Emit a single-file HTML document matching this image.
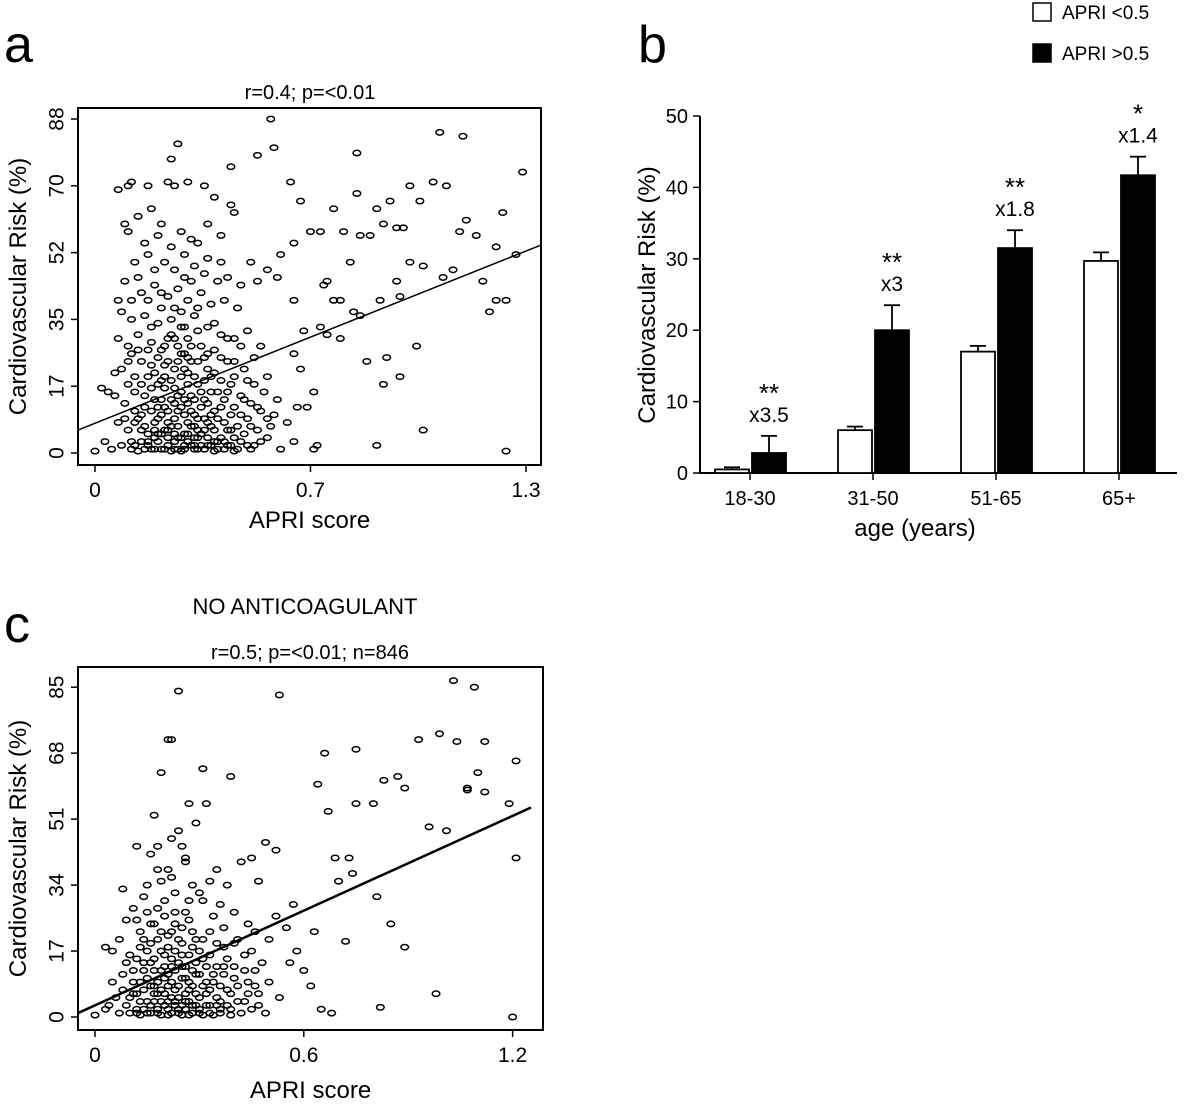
<!DOCTYPE html>
<html><head><meta charset="utf-8"><style>
html,body{margin:0;padding:0;background:#fff;}
svg{display:block;font-family:"Liberation Sans",Arial,sans-serif;}
</style></head><body>
<svg id="chart" width="1200" height="1105" viewBox="0 0 1200 1105">
<text x="4" y="62" font-size="52">a</text>
<text x="638" y="62" font-size="52">b</text>
<text x="4" y="642" font-size="52">c</text>
<g id="pa"></g>
<g id="pb"></g>
<g id="pc"></g>
</svg>
<script>
// ---------- Panel a data ----------
const aXTicks=[0,0.65,1.3];
const aXTickLabels=["0","0.7","1.3"];
const aYTicks=[0,17.5,35,52.5,70,87.5];
const aYTickLabels=["0","17","35","52","70","88"];
const aFit=[7.8,34.7]; // intercept, slope
const aPoints=[[0.53,87.5],[0.25,81],[0.54,80],[0.23,77],[0.49,78],[1.04,84],[1.11,83],[1.29,73.6],[0.79,78.6],[0.41,75],[0.59,71],[0.95,70],[1.02,71],[1.06,70],[0.07,69],[0.11,71],[0.16,70],[0.22,71],[0.24,70],[0.28,71],[0.33,70],[0.10,70],[0.36,67],[0.42,63],[0.41,65],[0.62,66],[0.72,64],[0.79,68],[0.85,64],[0.89,66],[0.98,66],[1.12,61],[1.23,63],[0.68,58],[0.65,58],[0.75,58],[0.80,57],[0.83,57],[0.87,60],[0.91,59],[0.93,59],[1.10,58],[1.15,57],[1.21,54],[1.27,52],[1.08,48],[1.17,45],[1.21,40],[1.24,40],[1.19,37],[1.05,46],[0.99,49],[0.91,45],[0.77,50],[0.70,45],[0.69,44],[0.72,40],[0.74,40],[0.78,37],[0.80,36],[0.86,40],[0.95,50],[0.92,41],[0.97,28],[0.87,18],[0.99,6],[1.24,0.5],[0.85,2],[0.66,1],[0.67,2],[0.60,55],[0.56,52],[0.55,46],[0.52,48],[0.49,45],[0.47,50],[0.44,44],[0.60,40],[0.63,32],[0.68,33],[0.70,31],[0.74,30],[0.82,24],[0.88,25],[0.92,20],[0.60,26],[0.62,22],[0.66,16],[0.64,12],[0.58,8],[0.55,14],[0.60,3],[0.61,12],
[0.13,62],[0.17,64],[0.20,60],[0.19,57],[0.15,55],[0.10,58],[0.26,58],[0.29,56],[0.31,55],[0.34,60],[0.38,57],[0.12,50],[0.16,52],[0.21,50],[0.24,48],[0.27,52],[0.30,49],[0.33,47],[0.37,45],[0.40,46],[0.09,45],[0.14,42],[0.18,44],[0.22,41],[0.25,43],[0.28,40],[0.32,42],[0.35,39],[0.39,40],[0.43,38],[0.08,37],[0.11,35],[0.15,36],[0.19,34],[0.23,35],[0.27,33],[0.30,36],[0.34,33],[0.38,31],[0.42,30],[0.46,32],[0.50,28],[0.07,30],[0.10,28],[0.13,31],[0.17,29],[0.20,27],[0.24,30],[0.26,26],[0.29,28],[0.33,25],[0.36,27],[0.40,24],[0.45,22],[0.48,25],[0.52,20],[0.08,22],[0.12,20],[0.14,24],[0.18,21],[0.21,23],[0.23,19],[0.27,22],[0.31,18],[0.35,20],[0.37,16],[0.41,18],[0.44,15],[0.47,13],[0.51,16],[0.54,10],[0.06,15],[0.09,13],[0.12,16],[0.15,12],[0.17,17],[0.20,14],[0.22,11],[0.25,15],[0.28,13],[0.30,10],[0.33,14],[0.36,11],[0.39,8],[0.42,12],[0.46,9],[0.49,6],[0.07,8],[0.10,6],[0.13,9],[0.16,5],[0.18,8],[0.21,6],[0.24,9],[0.26,4],[0.29,7],[0.32,5],[0.35,7],[0.38,4],[0.41,6],[0.44,3],[0.48,2],[0.52,4],[0.05,1],[0.08,2],[0.11,1],[0.14,3],[0.17,1],[0.19,3],[0.22,2],[0.25,1],[0.28,3],[0.31,1],[0.34,2],[0.37,1],[0.40,2],[0.43,1],[0.47,1],[0.56,1],[0.0,0.5],[0.03,3],[0.02,17],[0.04,16],[0.06,21],[0.07,40],[0.09,60],[0.11,26],[0.16,27],[0.19,18],[0.22,30],[0.25,24],[0.28,18],[0.31,32],[0.34,22],[0.16,40],[0.20,38],[0.26,37],[0.29,45],[0.23,54],[0.13,46],[0.15,7],[0.18,4],[0.20,10],[0.23,7],[0.27,10],[0.30,4],[0.33,9],[0.36,3],[0.19,12],[0.24,5],[0.26,12],[0.21,17],[0.17,11],[0.29,15],[0.32,12],[0.14,6],[0.12,11],[0.10,18],[0.27,2],[0.22,4],[0.20,1],[0.23,0.5],[0.26,0.5],[0.16,2],[0.13,0.5],[0.30,2],[0.18,6],[0.24,13],[0.21,20],[0.28,25],
[0.11,3],[0.12,8],[0.14,10],[0.15,15],[0.16,20],[0.17,23],[0.18,14],[0.19,9],[0.19,25],[0.20,5],[0.20,19],[0.21,12],[0.21,28],[0.22,8],[0.22,24],[0.23,14],[0.23,31],[0.24,3],[0.24,17],[0.24,22],[0.25,7],[0.25,11],[0.25,28],[0.26,16],[0.26,20],[0.26,33],[0.27,5],[0.27,14],[0.27,26],[0.28,8],[0.28,21],[0.28,30],[0.29,2],[0.29,11],[0.29,24],[0.30,7],[0.30,14],[0.30,20],[0.31,4],[0.31,9],[0.31,24],[0.32,2],[0.32,16],[0.32,28],[0.33,6],[0.33,19],[0.34,4],[0.34,13],[0.34,26],[0.35,2],[0.35,10],[0.35,16],[0.36,6],[0.36,21],[0.37,3],[0.37,9],[0.38,12],[0.38,19],[0.39,3],[0.39,14],[0.40,6],[0.40,16],[0.41,2],[0.41,10],[0.42,4],[0.42,20],[0.43,7],[0.44,10],[0.45,5],[0.45,14],[0.46,2],[0.47,7],[0.48,18],[0.50,3],[0.50,11],[0.53,7],[0.15,1],[0.18,1],[0.21,1],[0.24,1],[0.27,1],[0.30,1],[0.33,1],[0.36,0.5],[0.39,1],[0.42,0.5],[0.12,2],[0.16,3],[0.19,5],[0.22,6],[0.25,4],[0.28,5],[0.31,6],[0.34,8],[0.14,18],[0.13,27],[0.17,33],[0.20,42],[0.24,38],[0.31,38],[0.36,34],[0.40,30],[0.44,28],[0.38,25],[0.42,24],[0.46,19],[0.49,12],[0.52,9],[0.09,9],[0.10,24],[0.11,40],[0.18,48],[0.27,46],[0.34,51],[0.38,50]];

// ---------- Panel c data ----------
const cXTicks=[0,0.6,1.2];
const cXTickLabels=["0","0.6","1.2"];
const cYTicks=[0,17,34,51,68,85];
const cYTickLabels=["0","17","34","51","68","85"];
const cFit=[3,40.7];
const cPoints=[[1.03,86.7],[1.09,85],[0.24,84],[0.53,83],[0.21,71.5],[0.22,71.5],[0.31,64],[0.39,62],[0.19,63],[0.66,68],[0.75,69],[0.93,71.5],[0.99,73],[1.04,71],[1.12,71],[1.21,66],[1.10,63],[1.07,59],[1.12,58],[1.19,55],[1.07,58.5],[0.87,62],[0.89,59],[0.83,61],[0.64,60],[0.75,55],[0.80,55],[0.67,53],[1.01,48],[0.96,49],[0.69,41],[0.73,41],[0.74,37],[0.70,35],[0.81,31],[0.85,24],[0.89,18],[0.72,19.5],[0.98,6],[0.82,2.5],[1.20,0],[1.21,41],[0.68,1],[0.65,2],[0.60,12],[0.57,29],[0.55,23],[0.52,26],[0.58,17],[0.50,20],[0.62,8],[0.53,5],[0.56,14],[0.63,22],[0.52,43],[0.49,45],[0.45,41],[0.47,35],[0.42,40],[0.27,55],[0.32,55],[0.29,50],[0.24,48],[0.18,44],[0.16,42],[0.12,44],[0.08,33],[0.21,38],[0.26,41],[0.35,38],[0.38,34],[0.30,32],[0.33,35],[0.14,31],[0.11,28],[0.20,30],[0.23,27],[0.27,25],[0.36,29],[0.40,27],[0.44,24],[0.09,25],[0.13,22],[0.17,24],[0.21,21],[0.25,23],[0.29,20],[0.33,22],[0.37,18],[0.41,20],[0.45,17],[0.48,14],[0.03,18],[0.05,17],[0.07,20],[0.10,16],[0.13,18],[0.16,14],[0.19,17],[0.22,13],[0.25,16],[0.28,12],[0.31,15],[0.34,11],[0.37,13],[0.40,10],[0.43,12],[0.46,8],[0.50,9],[0.08,11],[0.11,9],[0.14,12],[0.17,8],[0.20,10],[0.23,7],[0.26,10],[0.29,6],[0.32,9],[0.35,5],[0.38,7],[0.41,4],[0.44,6],[0.47,3],[0.06,5],[0.09,3],[0.12,6],[0.15,4],[0.18,2],[0.21,4],[0.24,2],[0.27,4],[0.30,2],[0.33,3],[0.36,1],[0.39,2],[0.42,1],[0.45,2],[0.49,1],[0.0,0.5],[0.03,2],[0.07,1],[0.10,1],[0.13,0.5],[0.16,1],[0.19,0.5],[0.22,1],[0.25,0.5],[0.28,1],[0.31,0.5],[0.34,0.5],[0.15,27],[0.19,35],[0.23,32],[0.27,30],[0.17,52],[0.22,46],[0.26,40],[0.13,9],[0.18,6],[0.21,8],[0.24,5],[0.27,7],[0.30,11],[0.19,12],[0.22,15],[0.16,19],[0.25,13],[0.28,18],[0.20,3],[0.23,3],[0.17,4],[0.26,2],[0.14,14],
[0.10,5],[0.11,12],[0.12,2],[0.12,15],[0.13,4],[0.14,7],[0.14,20],[0.15,10],[0.15,17],[0.16,3],[0.16,8],[0.16,24],[0.17,12],[0.17,15],[0.18,9],[0.18,20],[0.18,28],[0.19,4],[0.19,7],[0.19,22],[0.20,13],[0.20,16],[0.20,26],[0.21,2],[0.21,11],[0.21,18],[0.22,5],[0.22,9],[0.22,22],[0.23,12],[0.23,17],[0.23,24],[0.24,8],[0.24,14],[0.24,20],[0.25,3],[0.25,10],[0.25,19],[0.26,6],[0.26,13],[0.26,27],[0.27,9],[0.27,16],[0.28,3],[0.28,8],[0.28,22],[0.29,11],[0.29,14],[0.30,5],[0.30,17],[0.31,8],[0.31,20],[0.32,3],[0.32,13],[0.33,7],[0.33,16],[0.34,9],[0.35,13],[0.35,19],[0.36,4],[0.36,8],[0.37,11],[0.38,3],[0.38,15],[0.39,6],[0.40,13],[0.41,8],[0.43,4],[0.44,9],[0.46,12],[0.47,6],[0.12,1],[0.15,1],[0.18,1],[0.21,0.5],[0.24,1],[0.27,0.5],[0.30,1],[0.33,1],[0.36,2],[0.39,0.5],[0.11,6],[0.14,2],[0.17,6],[0.20,6],[0.23,4],[0.26,4],[0.29,3],[0.32,6],[0.35,3],[0.08,7],[0.09,14],[0.12,25],[0.15,34],[0.18,38],[0.22,36],[0.25,44],[0.28,34],[0.31,30],[0.34,26],[0.37,23],[0.40,19],[0.43,16],[0.46,22],[0.05,9],[0.04,3]];

// ---------- Panel b data ----------
const bCategories=["18-30","31-50","51-65","65+"];
const bLow=[0.5,6,17,29.7];
const bLowErr=[0.3,0.5,0.8,1.2];
const bHigh=[2.8,20,31.5,41.7];
const bHighErr=[2.4,3.5,2.5,2.6];
const bFold=["x3.5","x3","x1.8","x1.4"];
const bStars=["**","**","**","*"];
const bYTicks=[0,10,20,30,40,50];

const NS="http://www.w3.org/2000/svg";
function mk(parent,tag,attrs,text){const e=document.createElementNS(NS,tag);for(const k in attrs)e.setAttribute(k,attrs[k]);if(text!==undefined)e.textContent=text;parent.appendChild(e);return e;}

function scatter(g,cfg){
  const sx=v=>cfg.x0+v*cfg.kx, sy=v=>cfg.y0-v*cfg.ky;
  const f=mk(g,'rect',{x:cfg.L,y:cfg.T,width:cfg.R-cfg.L,height:cfg.B-cfg.T,fill:'none',stroke:'#000','stroke-width':2});
  
  
  cfg.xt.forEach((v,i)=>{
    const l=mk(g,'line',{x1:sx(v),x2:sx(v),y1:cfg.B,y2:cfg.B+7,stroke:'#000','stroke-width':1.5});
    
    
    const t=mk(g,'text',{x:sx(v),y:cfg.B+32,'font-size':21,'text-anchor':'middle'},cfg.xl[i]);
    
    
  });
  cfg.yt.forEach((v,i)=>{
    const l=mk(g,'line',{x1:cfg.L-7,x2:cfg.L,y1:sy(v),y2:sy(v),stroke:'#000','stroke-width':1.5});
    
    
    const t=mk(g,'text',{x:cfg.L-20,y:sy(v),'font-size':21,'text-anchor':'middle',transform:`rotate(-90 ${cfg.L-20} ${sy(v)})`,'dominant-baseline':'middle'},cfg.yl[i]);
    
    
  });
  cfg.pts.forEach(p=>{
    const e=mk(g,'ellipse',{cx:sx(p[0]),cy:sy(p[1]),rx:3.8,ry:2.7,fill:'none',stroke:'#000','stroke-width':1.5});
    
    
  });
  const xa=(cfg.L-cfg.x0)/cfg.kx, xb=(cfg.fitEnd-cfg.x0)/cfg.kx;
  const ln=mk(g,'line',{x1:cfg.L,y1:sy(cfg.fit[0]+cfg.fit[1]*xa),x2:cfg.fitEnd,y2:sy(cfg.fit[0]+cfg.fit[1]*xb),stroke:'#000','stroke-width':cfg.lw});
  
  
  const xl=mk(g,'text',{x:(cfg.L+cfg.R)/2,y:cfg.xlabY,'font-size':24,'text-anchor':'middle'},'APRI score');
  
  
  const cy=(cfg.T+cfg.B)/2;
  const yl=mk(g,'text',{x:26,y:cy,'font-size':24,'text-anchor':'middle',transform:`rotate(-90 26 ${cy})`},'Cardiovascular Risk (%)');
  
  
}

const pa=document.getElementById('pa');
const ta=mk(pa,'text',{x:310,y:99,'font-size':20,'text-anchor':'middle'},'r=0.4; p=<0.01');


scatter(pa,{L:78,R:541,T:108,B:465,x0:95,kx:331.5,y0:453,ky:3.817,xt:aXTicks,xl:aXTickLabels,yt:aYTicks,yl:aYTickLabels,pts:aPoints,fit:aFit,fitEnd:541,lw:1.5,xlabY:528});

const pc=document.getElementById('pc');
const tc1=mk(pc,'text',{x:305,y:614,'font-size':22,'text-anchor':'middle'},'NO ANTICOAGULANT');


const tc2=mk(pc,'text',{x:310,y:659,'font-size':20,'text-anchor':'middle'},'r=0.5; p=<0.01; n=846');


scatter(pc,{L:78,R:543,T:667,B:1030,x0:95,kx:348,y0:1017,ky:3.88,xt:cXTicks,xl:cXTickLabels,yt:cYTicks,yl:cYTickLabels,pts:cPoints,fit:cFit,fitEnd:531,lw:2.5,xlabY:1098});

// Panel b
const pb=document.getElementById('pb');
const bx0=700,bx1=1177,by0=473,bky=7.14;
const byS=v=>by0-v*bky;
const groupX=i=>750+i*123;
const bw=34;
const yax=mk(pb,'line',{x1:bx0,x2:bx0,y1:byS(50),y2:by0,stroke:'#000','stroke-width':2});


const xax=mk(pb,'line',{x1:bx0,x2:bx1,y1:by0,y2:by0,stroke:'#000','stroke-width':2});


bYTicks.forEach(v=>{
  const l=mk(pb,'line',{x1:bx0-7,x2:bx0,y1:byS(v),y2:byS(v),stroke:'#000','stroke-width':1.5});
  
  
  const t=mk(pb,'text',{x:bx0-12,y:byS(v)+7,'font-size':20,'text-anchor':'end'},String(v));
  
  
});
function errbar(x,top,err){
  const l=mk(pb,'line',{x1:x,x2:x,y1:byS(top),y2:byS(top+err),stroke:'#000','stroke-width':1.8});
  
  
  const c=mk(pb,'line',{x1:x-8,x2:x+8,y1:byS(top+err),y2:byS(top+err),stroke:'#000','stroke-width':1.8});
  
  
}
bCategories.forEach((c,i)=>{
  const gx=groupX(i);
  const t=mk(pb,'line',{x1:gx,x2:gx,y1:by0,y2:by0+7,stroke:'#000','stroke-width':1.5});
  
  
  const lab=mk(pb,'text',{x:gx,y:by0+32,'font-size':20,'text-anchor':'middle'},c);
  
  
  errbar(gx-1-bw/2,bLow[i],bLowErr[i]);
  errbar(gx+2+bw/2,bHigh[i],bHighErr[i]);
  const r1=mk(pb,'rect',{x:gx-1-bw,y:byS(bLow[i]),width:bw,height:bLow[i]*bky,fill:'#fff',stroke:'#000','stroke-width':1.8});
  
  
  const r2=mk(pb,'rect',{x:gx+2,y:byS(bHigh[i]),width:bw,height:bHigh[i]*bky,fill:'#000',stroke:'#000','stroke-width':1.8});
  
  
  const topY=byS(bHigh[i]+bHighErr[i]);
  const f=mk(pb,'text',{x:gx+2+bw/2,y:topY-14,'font-size':21,'text-anchor':'middle'},bFold[i]);
  
  
  const s=mk(pb,'text',{x:gx+2+bw/2,y:topY-34,'font-size':26,'text-anchor':'middle'},bStars[i]);
  
  
});
const bxl=mk(pb,'text',{x:915,y:536,'font-size':24,'text-anchor':'middle'},'age (years)');


const byl=mk(pb,'text',{x:655,y:295,'font-size':24,'text-anchor':'middle',transform:'rotate(-90 655 295)'},'Cardiovascular Risk (%)');


// legend
const lg1=mk(pb,'rect',{x:1033,y:3,width:18,height:18,fill:'#fff',stroke:'#000','stroke-width':1.5});


const lt1=mk(pb,'text',{x:1062,y:19,'font-size':19},'APRI <0.5');


const lg2=mk(pb,'rect',{x:1033,y:44,width:18,height:18,fill:'#000',stroke:'#000','stroke-width':1.5});


const lt2=mk(pb,'text',{x:1062,y:60,'font-size':19},'APRI >0.5');


</script>
</body></html>
